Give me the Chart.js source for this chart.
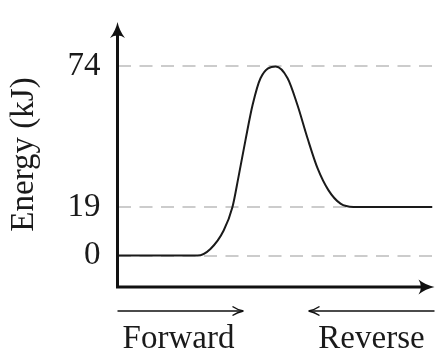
<!DOCTYPE html>
<html>
<head>
<meta charset="utf-8">
<script src="https://cdn.jsdelivr.net/npm/chart.js@4/dist/chart.umd.min.js"></script>
<style>
  html, body { margin: 0; padding: 0; background: #fff; }
  #wrap { width: 440px; height: 354px; }
</style>
</head>
<body>
<div id="wrap"><canvas id="energyChart" width="440" height="354"></canvas></div>
<script>
// reaction coordinate (0..100) and energy in kJ
const progress = [0, 25.4, 29.5, 33.7, 36.5, 38.4, 40.6, 42.9, 45.4, 50.2, 54.0, 57.1, 60.3, 63.5, 67.0, 70.8, 74.9, 100];
const energy   = [0, 0, 2.6, 9.8, 19, 30.7, 45, 59, 69.4, 74, 69.4, 59, 46, 34.2, 25.5, 20.3, 19, 19];
const energyTicks = [0, 19, 74];
const directionLabels = ['Forward', 'Reverse'];

const serif = '"Liberation Serif", "Times New Roman", serif';
const ink = '#111';

function arrowHead(ctx, x, y, angle, len, half, filled) {
  ctx.save();
  ctx.translate(x, y);
  ctx.rotate(angle);
  ctx.beginPath();
  ctx.moveTo(0, 0);
  ctx.quadraticCurveTo(-len * 0.55, half * 0.25, -len, half);
  if (filled) {
    ctx.quadraticCurveTo(-len * 0.7, 0, -len, -half);
    ctx.quadraticCurveTo(-len * 0.55, -half * 0.25, 0, 0);
    ctx.fill();
  } else {
    ctx.moveTo(0, 0);
    ctx.quadraticCurveTo(-len * 0.55, -half * 0.25, -len, -half);
    ctx.stroke();
  }
  ctx.restore();
}

const axesPlugin = {
  id: 'axesPlugin',
  afterDraw(chart) {
    const { ctx, chartArea } = chart;
    const left = chartArea.left, bottom = chartArea.bottom;
    const top = chartArea.top, right = chartArea.right + 2;
    ctx.save();
    ctx.strokeStyle = ink;
    ctx.fillStyle = ink;
    ctx.lineWidth = 3;
    ctx.beginPath();
    ctx.moveTo(left, top + 10);
    ctx.lineTo(left, bottom);
    ctx.lineTo(right - 10, bottom);
    ctx.stroke();
    arrowHead(ctx, left, top, -Math.PI / 2, 16, 7.5, true);
    arrowHead(ctx, right, bottom, 0, 16, 7.5, true);

    // direction arrows under the axis
    const ay = bottom + 24;
    ctx.lineWidth = 1.5;
    ctx.beginPath();
    ctx.moveTo(left, ay);
    ctx.lineTo(left + 125, ay);
    ctx.moveTo(right, ay);
    ctx.lineTo(right - 125, ay);
    ctx.stroke();
    arrowHead(ctx, left + 126, ay, 0, 11, 4.5, false);
    arrowHead(ctx, right - 126, ay, Math.PI, 11, 4.5, false);

    ctx.font = '33px ' + serif;
    ctx.textAlign = 'center';
    ctx.textBaseline = 'alphabetic';
    ctx.fillStyle = '#1a1a1a';
    ctx.fillText(directionLabels[0], left + 61, bottom + 61);
    ctx.fillText(directionLabels[1], right - 63, bottom + 61);
    ctx.restore();
  }
};

new Chart(document.getElementById('energyChart'), {
  type: 'line',
  data: {
    datasets: [{
      data: progress.map((p, i) => ({ x: p, y: energy[i] })),
      borderColor: '#1a1a1a',
      borderWidth: 2,
      pointRadius: 0,
      fill: false,
      cubicInterpolationMode: 'monotone'
    }]
  },
  options: {
    responsive: false,
    animation: false,
    events: [],
    layout: { padding: { top: 22, bottom: 67, right: 7.5, left: 0 } },
    plugins: { legend: { display: false }, tooltip: { enabled: false } },
    scales: {
      x: {
        type: 'linear',
        min: 0,
        max: 100,
        display: false
      },
      y: {
        type: 'linear',
        min: -12.3,
        max: 91.4,
        afterBuildTicks: axis => { axis.ticks = energyTicks.map(v => ({ value: v })); },
        afterFit: axis => {
          axis.width = 117.5;
          axis.paddingTop = 0;
          axis.paddingBottom = 0;
        },
        grid: { color: '#cccccc', lineWidth: 2, drawTicks: false },
        border: { display: false, dash: [13, 8.5] },
        ticks: {
          padding: 17,
          color: '#1a1a1a',
          font: { family: serif, size: 33 }
        },
        title: {
          display: true,
          text: 'Energy (kJ)',
          color: '#1a1a1a',
          font: { family: serif, size: 33 },
          padding: { top: 5, bottom: 0 }
        }
      }
    }
  },
  plugins: [axesPlugin]
});
</script>
</body>
</html>
